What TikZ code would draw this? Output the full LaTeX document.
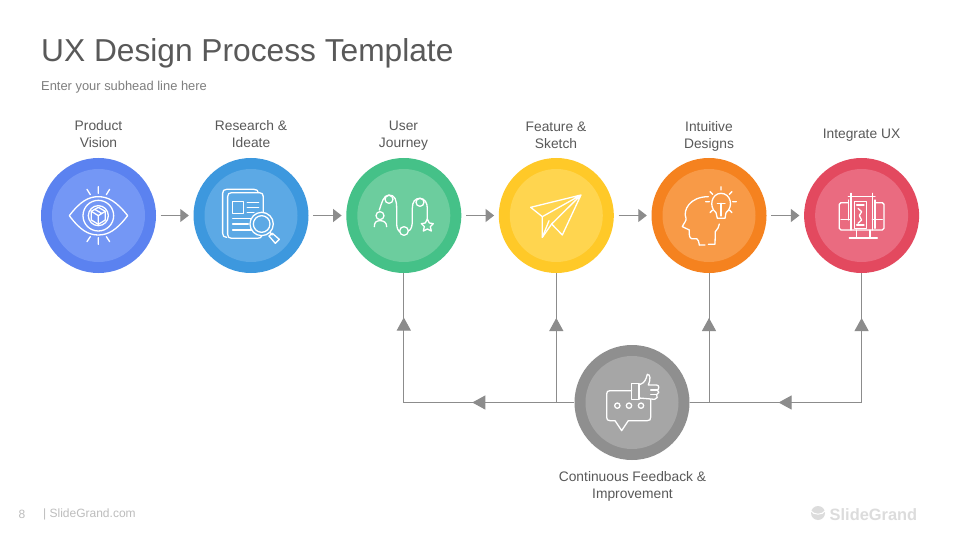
\documentclass[tikz,border=0pt]{standalone}
\usepackage{fontspec}
\setmainfont{Liberation Sans}
\usetikzlibrary{arrows.meta,decorations.markings}
\definecolor{txt}{HTML}{595959}
\definecolor{sub}{HTML}{7F7F7F}
\definecolor{lnk}{HTML}{8C8C8C}
\definecolor{foot}{HTML}{BDBDBD}
\definecolor{logo}{HTML}{DCDCDC}
\definecolor{ra}{HTML}{5B82F0}\definecolor{da}{HTML}{7497F5}
\definecolor{rb}{HTML}{3D98DE}\definecolor{db}{HTML}{5CA9E5}
\definecolor{rc}{HTML}{45C188}\definecolor{dc}{HTML}{6CCD9E}
\definecolor{rd}{HTML}{FFC928}\definecolor{dd}{HTML}{FFD54F}
\definecolor{re}{HTML}{F5821F}\definecolor{de}{HTML}{F89A47}
\definecolor{rf}{HTML}{E3495F}\definecolor{df}{HTML}{EA6B80}
\definecolor{rg}{HTML}{8F8F8F}\definecolor{dg}{HTML}{A6A6A6}
\tikzset{
  ring/.style={circle,inner sep=0pt,minimum size=115,fill=#1},
  disc/.style={circle,inner sep=0pt,minimum size=93,fill=#1},
  conn/.style={draw=lnk,line width=1pt},
  flow/.style={conn,-{Triangle[length=8.5,width=13,fill=lnk]},shorten >=4.5pt,shorten <=4.5pt},
  onetip/.style={conn,postaction={decorate},decoration={markings,mark=at position #1 with {\arrow{Triangle[length=13,width=14,fill=lnk]}}}},
  twotip/.style 2 args={conn,postaction={decorate},decoration={markings,
     mark=at position #1 with {\arrow{Triangle[length=13,width=14,fill=lnk]}},
     mark=at position #2 with {\arrow{Triangle[length=13,width=14,fill=lnk]}}}},
  label/.style={text=txt,align=center,font=\fontsize{13.8}{17}\selectfont},
  icon/.style={draw=white,line width=1.3pt,line cap=round,line join=round},
  zoomed/.style 2 args={shift={(#1,#2)},x=0.3333pt,y=-0.3333pt}
}
\begin{document}
\begin{tikzpicture}[x=1pt,y=-1pt]
\useasboundingbox (0,0) rectangle (960,540);
\fill[white] (0,0) rectangle (960,540);
% heading
\node[anchor=west,inner sep=0pt,text=txt,font=\fontsize{31.7}{36}\selectfont] (title) at (41,53.5) {UX Design Process Template};
\node[anchor=west,inner sep=0pt,text=sub,font=\fontsize{12.9}{15}\selectfont] (subhead) at (41,87) {Enter your subhead line here};
% labels
\node[label] (l1) at (98.5,134.5) {Product\\Vision};
\node[label] (l2) at (251,134.5) {Research \&\\Ideate};
\node[label] (l3) at (403.5,136) {User\\Journey};
\node[label] (l4) at (556,135.5) {Feature \&\\Sketch};
\node[label] (l5) at (709,136.5) {Intuitive\\Designs};
\node[label] (l6) at (861.5,135.5) {Integrate UX};
\node[label] (l7) at (632.5,486) {Continuous Feedback \&\\Improvement};
% circles
\node[ring=ra] (c1) at (98.5,215.5) {};
\node[ring=rb] (c2) at (251,215.5) {};
\node[ring=rc] (c3) at (403.8,215.5) {};
\node[ring=rd] (c4) at (556.3,215.5) {};
\node[ring=re] (c5) at (709,215.5) {};
\node[ring=rf] (c6) at (861.6,215.5) {};
\node[ring=rg] (fb) at (632,402.5) {};
\node[disc=da] at (c1) {};
\node[disc=db] at (c2) {};
\node[disc=dc] at (c3) {};
\node[disc=dd] at (c4) {};
\node[disc=de] at (c5) {};
\node[disc=df] at (c6) {};
\node[disc=dg] at (fb) {};
% connectors
\draw[flow] (c1) -- (c2);
\draw[flow] (c2) -- (c3);
\draw[flow] (c3) -- (c4);
\draw[flow] (c4) -- (c5);
\draw[flow] (c5) -- (c6);
\draw[twotip={102pt}{255.5pt}] (fb.west) -| (c3.south);
\coordinate (corner) at (c6.south |- fb.east);
\draw[onetip={83pt}] (corner) -- (fb.east);
\draw[onetip={84.5pt}] (corner) -- (c6.south);
\draw[onetip={84.5pt}] (c4.south |- fb.west) -- (c4.south);
\draw[onetip={84.5pt}] (c5.south |- fb.east) -- (c5.south);
% eye icon
\begin{scope}[zoomed={30}{150},icon]
\draw (118,197) .. controls (150,155) and (175,140) .. (205,140) .. controls (235,140) and (260,155) .. (293,197) .. controls (260,240) and (235,255) .. (205,255) .. controls (175,255) and (150,240) .. (118,197) -- cycle;
\draw (205,197) circle (46);
\draw (205,197) circle (30);
\draw (205,172) -- (226,184) -- (226,210) -- (205,223) -- (184,210) -- (184,184) -- cycle;
\draw (184,184) -- (205,197) -- (226,184) (205,197) -- (205,223) (194,178) -- (215,190);
\draw (205,110) -- (205,130) (171,118) -- (181,134) (239,118) -- (229,134);
\draw (205,263) -- (205,283) (171,275) -- (181,260) (239,275) -- (229,260);
\end{scope}
% document icon
\begin{scope}[zoomed={30}{150},icon]
\draw (590,262) .. controls (582,262) and (578,258) .. (578,250) -- (578,130) .. controls (578,122) and (582,118) .. (590,118) -- (672,118) .. controls (680,118) and (685,122) .. (685,128);
\draw (700,187) -- (700,140) .. controls (700,132) and (696,128) .. (688,128) -- (605,128) .. controls (597,128) and (593,132) .. (593,140) -- (593,253) .. controls (593,261) and (597,265) .. (605,265) -- (682,265) .. controls (690,265) and (695,262) .. (695,258);
\draw (608,155) rectangle (640,190);
\draw (652,158) -- (686,158) (652,173) -- (686,173) (652,188) -- (672,188);
\draw (608,205) -- (662,205) (608,222) -- (655,222) (608,240) -- (665,240);
\draw (695,222) circle (35);
\draw (695,222) circle (25);
\draw (720,247) -- (727,255) (727,250) -- (717,258);
\draw (727,250) -- (748,268) -- (736,280) -- (717,258);
\end{scope}
% journey icon
\begin{scope}[zoomed={340}{150},icon]
\draw (147,148) circle (12);
\draw (240,157) circle (12);
\draw (192,243) circle (13);
\draw (120,197) circle (12);
\draw (103,230) .. controls (103,218) and (108,212) .. (120,212) .. controls (132,212) and (140,218) .. (140,230);
\draw (118,180) .. controls (125,160) and (130,135) .. (147,135) .. controls (165,135) and (170,150) .. (170,175) -- (170,220) .. controls (170,235) and (175,243) .. (179,246);
\draw (205,243) .. controls (215,240) and (217,225) .. (217,210) -- (217,175) .. controls (217,155) and (225,145) .. (240,145) .. controls (255,145) and (262,160) .. (262,175) -- (262,207);
\draw (262,207) -- (268,219) -- (280,221) -- (271,230) -- (274,243) -- (262,237) -- (250,243) -- (253,230) -- (244,221) -- (256,219) -- cycle;
\end{scope}
% plane icon
\begin{scope}[zoomed={340}{150},icon]
\draw (723,135) -- (572,172) -- (607,200) -- (723,135) -- (667,255) -- (635,222) -- (723,135);
\draw (607,200) -- (607,262) -- (635,222);
\draw (607,262) -- (627,212);
\end{scope}
% head icon
\begin{scope}[zoomed={640}{150},icon]
\draw (178,285) .. controls (176,275) and (175,268) .. (170,266) -- (155,266) .. controls (148,264) and (147,255) .. (148,240) -- (127,230) .. controls (130,222) and (140,212) .. (138,205) .. controls (128,180) and (150,140) .. (205,140);
\draw (178,285) -- (195,285) (205,283) -- (225,283) -- (226,245) .. controls (232,238) and (238,230) .. (238,222);
\draw (228,188) .. controls (205,170) and (215,130) .. (243,130) .. controls (272,130) and (282,170) .. (258,188) -- (255,205) -- (232,205) -- cycle;
\draw (232,160) -- (255,160) (243,160) -- (243,198);
\draw (243,110) -- (243,120) (210,125) -- (218,133) (276,125) -- (268,133) (197,155) -- (208,155) (278,155) -- (289,155) (210,188) -- (218,180) (276,188) -- (268,180);
\end{scope}
% monitor icon
\begin{scope}[zoomed={640}{150},icon]
\draw (625,158) -- (603,158) -- (598,163) -- (598,235) -- (603,240) -- (727,240) -- (732,235) -- (732,163) -- (727,158) -- (705,158);
\draw (650,240) -- (650,263) (690,240) -- (690,263) (628,264) -- (712,264);
\draw (625,140) -- (705,140) (633,130) -- (633,240) (697,130) -- (697,240) (625,210) -- (625,150) (705,150) -- (705,235);
\draw (643,155) rectangle (680,235);
\draw (650,165) -- (672,165) (650,225) -- (672,225);
\draw (654,175) -- (665,185) -- (658,197) -- (665,210) -- (654,220);
\draw (603,208) -- (633,208) (697,208) -- (727,208);
\end{scope}
% feedback icon
\begin{scope}[zoomed={560}{340},icon]
\draw (215,152) -- (150,152) .. controls (143,152) and (140,155) .. (140,162) -- (140,232) .. controls (140,239) and (143,242) .. (150,242) -- (165,242) -- (185,272) -- (205,242) -- (262,242) .. controls (269,242) and (272,239) .. (272,232) -- (272,178);
\draw (172,197) circle (8) (207,197) circle (8) (243,197) circle (8);
\draw (215,130) rectangle (237,178);
\draw (237,135) -- (250,128) .. controls (258,120) and (260,110) .. (262,103) .. controls (272,103) and (272,118) .. (265,135) -- (290,135) .. controls (298,135) and (298,148) .. (292,150) .. controls (298,152) and (298,162) .. (290,164) .. controls (294,168) and (292,178) .. (284,178) -- (237,174);
\draw (272,150) -- (292,150) (272,164) -- (290,164);
\end{scope}
% footer
\node[anchor=west,inner sep=0pt,text=foot,font=\fontsize{12}{14}\selectfont] (num) at (18.5,514.5) {8};
\node[anchor=west,inner sep=0pt,text=foot,font=\fontsize{12}{14}\selectfont] (site) at (43,514.5) {| SlideGrand.com};
\begin{scope}[zoomed={780}{490}]
\fill[logo] (114,69) circle (21);
\draw[white,line width=1pt] (92,62) .. controls (100,76) and (128,76) .. (136,62);
\end{scope}
\node[anchor=west,inner sep=0pt,text=logo,font=\fontsize{16.4}{20}\selectfont\bfseries] (brand) at (829.5,514.5) {SlideGrand};
\end{tikzpicture}
\end{document}
